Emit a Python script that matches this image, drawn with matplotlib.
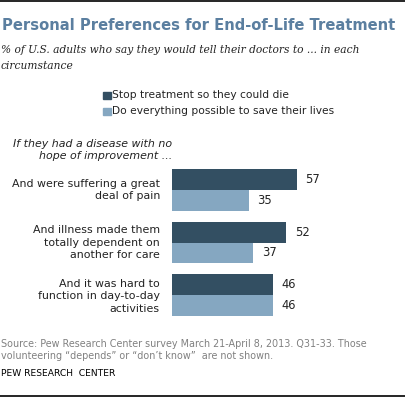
import matplotlib
matplotlib.use('Agg')
import matplotlib.pyplot as plt
from matplotlib.patches import Rectangle
import numpy as np

######################################################

categories = ['And were suffering a great\ndeal of pain',
              'And illness made them\ntotally dependent on\nanother for care',
              'And it was hard to\nfunction in day-to-day\nactivities']
stop_treatment = [57, 52, 46]
do_everything = [35, 37, 46]
series_names = ['Stop treatment so they could die',
                'Do everything possible to save their lives']

DARK = '#334f62'
LIGHT = '#85a7c1'

W, H = 405, 397
fig = plt.figure(figsize=(W / 100, H / 100), dpi=100)

def fx(px):
    return px / W

def fy(py):
    return 1 - py / H

# frame lines top and bottom
fig.add_artist(plt.Line2D([0, 1], [fy(1), fy(1)], color='black', lw=1.2))
fig.add_artist(plt.Line2D([0, 1], [fy(395.5), fy(395.5)], color='black', lw=1.2))

fig.text(fx(2), fy(25), 'Personal Preferences for End-of-Life Treatment',
         fontsize=10.6, fontweight='bold', color='#5b7fa0', va='center')
fig.text(fx(1), fy(50), '% of U.S. adults who say they would tell their doctors to ... in each',
         fontsize=7.7, style='italic', family='DejaVu Serif', color='#222222', va='center')
fig.text(fx(1), fy(66), 'circumstance',
         fontsize=7.7, style='italic', family='DejaVu Serif', color='#222222', va='center')

# legend
for i, (name, col) in enumerate(zip(series_names, [DARK, LIGHT])):
    yc = 95 + i * 16
    fig.add_artist(Rectangle((fx(103), fy(yc + 3.5)), fx(8) - fx(0), fy(0) - fy(7),
                             color=col, transform=fig.transFigure))
    fig.text(fx(112), fy(yc), name, fontsize=7.7, color='#222222', va='center')

fig.text(fx(172), fy(150), 'If they had a disease with no\nhope of improvement ...',
         fontsize=7.9, style='italic', color='#222222', ha='right', va='center',
         multialignment='right', linespacing=1.3)

# bars
ax = fig.add_axes([fx(172), fy(321), fx(219), fy(164) - fy(321)])
y = np.arange(len(categories))
h = 0.4
ax.barh(y - h / 2, stop_treatment, height=h, color=DARK)
ax.barh(y + h / 2, do_everything, height=h, color=LIGHT)
ax.set_xlim(0, 100)
ax.set_ylim(2.5, -0.5)
ax.axis('off')

for i in range(len(categories)):
    ax.text(stop_treatment[i] + 4, y[i] - h / 2, str(stop_treatment[i]),
            fontsize=8.3, va='center', color='#222222')
    ax.text(do_everything[i] + 4, y[i] + h / 2, str(do_everything[i]),
            fontsize=8.3, va='center', color='#222222')
    ax.text(-5.5, y[i] + 0.03 * (i == 2), categories[i], fontsize=7.9, ha='right', va='center',
            multialignment='right', color='#222222', linespacing=1.3)

fig.text(fx(1), fy(350), 'Source: Pew Research Center survey March 21-April 8, 2013. Q31-33. Those\n'
         'volunteering \u201cdepends\u201d or \u201cdon\u2019t know\u201d  are not shown.',
         fontsize=6.9, color='#808080', va='center', linespacing=1.15)
fig.text(fx(1), fy(374), 'PEW RESEARCH  CENTER', fontsize=6.6, color='black', va='center')

plt.savefig('out.png', dpi=100)
